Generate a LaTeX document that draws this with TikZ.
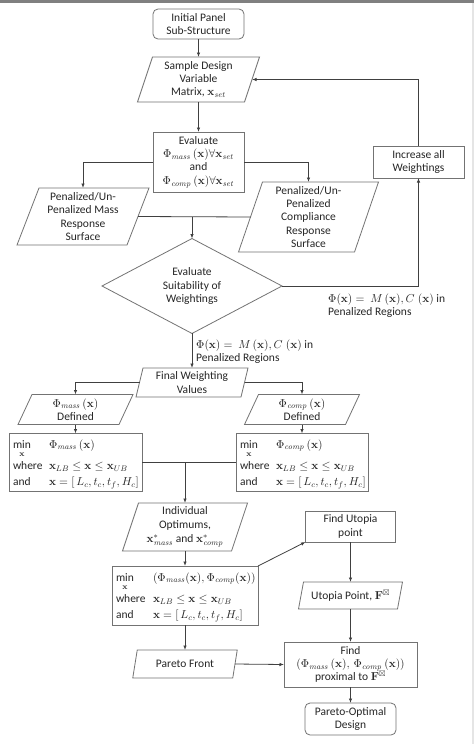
\RequirePackage{fix-cm}
\documentclass[tikz,border=0pt]{standalone}
\usepackage{amsmath,amssymb}
\usepackage[no-math]{fontspec}
\setmainfont{Carlito}
\usetikzlibrary{shapes.geometric,arrows.meta}
\definecolor{boxgray}{gray}{0.45}
\definecolor{linegray}{gray}{0.25}
\definecolor{txtgray}{gray}{0.15}
\renewcommand{\arraystretch}{1.25}
\tikzset{
  every node/.style={font=\fontsize{11.5pt}{13.3pt}\selectfont, text=txtgray},
  procbox/.style={draw=boxgray, line width=0.8pt, align=center, inner sep=0pt, outer sep=0pt},
  termbox/.style={procbox, rounded corners=5pt},
  iobox/.style={align=center, inner sep=0pt, outer sep=0pt},
  decbox/.style={diamond, draw=boxgray, line width=0.8pt, align=center, inner sep=0pt, outer sep=0pt},
  mathbox/.style={draw=boxgray, line width=0.8pt, inner xsep=4pt, inner ysep=0.5pt, outer sep=0pt, anchor=west, align=left},
  conn/.style={draw=linegray, line width=0.8pt},
  arr/.style={conn, -{Latex[length=4.5pt,width=3.5pt]}},
  lbl/.style={align=left, anchor=west, inner sep=0pt}
}
\begin{document}
\begin{tikzpicture}[x=1pt,y=-1pt]
    \useasboundingbox (0,0) rectangle (474,744);
    \fill[white] (0,0) rectangle (474,744);
    \fill[black!50] (0,0) rectangle (474,2.5);
    \fill[black!10] (471.5,2.5) rectangle (474,744);

    \node[termbox, minimum width=91pt, minimum height=30pt] (init) at (198.5,24) {Initial Panel\\Sub-Structure};
    \node[iobox, minimum width=107pt, minimum height=45pt] (sample) at (198.5,79.5) {Sample Design\\Variable\\Matrix, $\mathbf{x}_{\mathit{set}}$};
    \node[procbox, minimum width=91pt, minimum height=60pt] (eval) at (198.5,162) {Evaluate\\$\Phi_{\mathit{mass}}\,(\mathbf{x})\forall\mathbf{x}_{\mathit{set}}$\\and\\$\Phi_{\mathit{comp}}\,(\mathbf{x})\forall\mathbf{x}_{\mathit{set}}$};
    \node[iobox, minimum width=110pt, minimum height=57pt] (massrs) at (83,216.5) {Penalized/Un-\\Penalized Mass\\Response\\Surface};
    \node[iobox, minimum width=116pt, minimum height=70pt] (comprs) at (308.5,217) {Penalized/Un-\\Penalized\\Compliance\\Response\\Surface};
    \node[procbox, minimum width=91pt, minimum height=32pt] (incr) at (418.5,162) {Increase all\\Weightings};
    \node[decbox, minimum width=180pt, minimum height=91pt] (suit) at (192,286) {Evaluate\\Suitability of\\Weightings};
    \node[lbl] (lblloop) at (328,305.5) {$\Phi(\mathbf{x})=\ M\,(\mathbf{x}),C\;(\mathbf{x})$ in\\Penalized Regions};
    \node[lbl] (lblfinal) at (196,351.5) {$\Phi(\mathbf{x})=\ M\,(\mathbf{x}),C\;(\mathbf{x})$ in\\Penalized Regions};
    \node[iobox, minimum width=105pt, minimum height=29pt] (final) at (192,382.5) {Final Weighting\\Values};
    \node[iobox, minimum width=101pt, minimum height=30pt] (massdef) at (75.5,409.5) {$\Phi_{\mathit{mass}}\,(\mathbf{x})$\\Defined};
    \node[iobox, minimum width=101pt, minimum height=30pt] (compdef) at (302,409.5) {$\Phi_{\mathit{comp}}\,(\mathbf{x})$\\Defined};
    \node[mathbox, text width=125pt, minimum height=58pt] (minL) at (9,462.5) {\begin{tabular}{@{}p{36pt}@{}l@{}}
      \rule{0pt}{14pt}$\underset{\raisebox{-1.5pt}{$\scriptstyle\mathbf{x}$}}{\text{min}}$ & $\Phi_{\mathit{mass}}\,(\mathbf{x})$\\[3pt]
      where & $\mathbf{x}_{LB}\le\mathbf{x}\le\mathbf{x}_{UB}$\\
      and & $\mathbf{x}=[\,L_c,t_c,t_f,H_c]$
    \end{tabular}};
    \node[mathbox, text width=124pt, minimum height=58pt] (minR) at (236,462.5) {\begin{tabular}{@{}p{36pt}@{}l@{}}
      \rule{0pt}{14pt}$\underset{\raisebox{-1.5pt}{$\scriptstyle\mathbf{x}$}}{\text{min}}$ & $\Phi_{\mathit{comp}}\,(\mathbf{x})$\\[3pt]
      where & $\mathbf{x}_{LB}\le\mathbf{x}\le\mathbf{x}_{UB}$\\
      and & $\mathbf{x}=[\,L_c,t_c,t_f,H_c]$
    \end{tabular}};
    \node[iobox, minimum width=109pt, minimum height=48pt] (indiv) at (185,527) {Individual\\Optimums,\\[1.5pt]$\mathbf{x}^{*}_{\mathit{mass}}$ and $\mathbf{x}^{*}_{\mathit{comp}}$};
    \node[mathbox, text width=138pt, minimum height=59pt] (minM) at (112,595.5) {\begin{tabular}{@{}p{37pt}@{}l@{}}
      \rule{0pt}{14pt}$\underset{\raisebox{-1.5pt}{$\scriptstyle\mathbf{x}$}}{\text{min}}$ & $(\Phi_{\mathit{mass}}(\mathbf{x}),\Phi_{\mathit{comp}}(\mathbf{x}))$\\[3pt]
      where & $\mathbf{x}_{LB}\le\mathbf{x}\le\mathbf{x}_{UB}$\\
      and & $\mathbf{x}=[\,L_c,t_c,t_f,H_c]$
    \end{tabular}};
    \node[procbox, minimum width=90pt, minimum height=31pt] (utop) at (350.5,526.5) {Find Utopia\\point};
    \node[iobox, minimum width=99pt, minimum height=27pt] (upt) at (350.5,595.5) {Utopia Point, $\mathbf{F}^{\boxtimes}$};
    \node[procbox, minimum width=133pt, minimum height=45pt] (find) at (350.5,664.5) {Find\\$(\Phi_{\mathit{mass}}\,(\mathbf{x}),\,\Phi_{\mathit{comp}}\,(\mathbf{x}))$\\proximal to $\mathbf{F}^{\boxtimes}$};
    \node[iobox, minimum width=100pt, minimum height=28pt] (pareto) at (185,664) {Pareto Front};
    \node[termbox, minimum width=91pt, minimum height=32pt] (popt) at (350.5,719) {Pareto-Optimal\\Design};

    \foreach \n/\s in {sample/15, massrs/22, comprs/24, final/7, massdef/14, compdef/14, indiv/16, upt/5, pareto/4.5}
        \draw[draw=boxgray, line width=0.8pt] ([xshift=\s*0.5pt]\n.north west) -- ([xshift=\s*0.5pt]\n.north east) -- ([xshift=-\s*0.5pt]\n.south east) -- ([xshift=-\s*0.5pt]\n.south west) -- cycle;

    \draw[arr] (init.south) -- (sample.north);
    \draw[arr] (sample.south) -- (eval.north);
    \draw[arr] (eval.west) -| (massrs.north);
    \draw[arr] (eval.east) -| (comprs.north);
    \draw[conn] (massrs.east) -- (comprs.west);
    \draw[arr] (massrs.east -| suit.north) -- (suit.north);
    \draw[arr] (suit.east) -| (incr.south);
    \draw[arr] (incr.north) |- (sample.east);
    \draw[arr] (suit.south) -- (final.north);
    \draw[arr] (final.west) -| (massdef.north);
    \draw[arr] (final.east) -| (compdef.north);
    \draw[arr] (massdef.south) -- (minL.north);
    \draw[arr] (compdef.south) -- (minR.north);
    \draw[conn] (minL.east) -- (minR.west);
    \draw[arr] (minL.east -| indiv.north) -- (indiv.north);
    \draw[arr] (indiv.south) -- (minM.north);
    \draw[arr] (minM.north east) -- (utop.south west);
    \draw[arr] (utop.south) -- (upt.north);
    \draw[arr] (upt.south) -- (find.north);
    \draw[arr] (minM.south) -- (pareto.north);
    \draw[arr] (pareto.east) -- (find.west);
    \draw[arr] (find.south) -- (popt.north);
\end{tikzpicture}
\end{document}
